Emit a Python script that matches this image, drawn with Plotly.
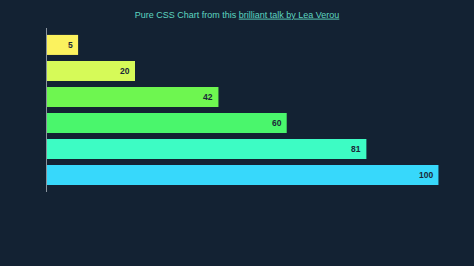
import plotly.graph_objects as go

categories = ["a", "b", "c", "d", "e", "f"]
values = [5, 20, 42, 60, 81, 100]
colors = ["#fbf25e", "#d6fa58", "#6ef650", "#4af66c", "#3dfcc4", "#37d8fb"]

BG = "#132233"
BASE = -3.2

fig = go.Figure()
fig.add_trace(go.Bar(
    y=categories, x=[v - BASE for v in values], base=BASE,
    orientation="h", marker=dict(color=colors, line=dict(width=0)),
    hoverinfo="skip", showlegend=False,
))
for c, v in zip(categories, values):
    fig.add_annotation(x=v, y=c, text=f"<b>{v}</b>", showarrow=False,
                       xanchor="right", xshift=-3,
                       font=dict(family="Liberation Sans, Arial", size=8.5, color="#1b2838"))

fig.update_layout(
    width=474, height=266,
    paper_bgcolor=BG, plot_bgcolor=BG,
    margin=dict(l=47, r=9, t=28, b=74),
    bargap=0.23,
    title=dict(
        text='Pure CSS Chart from this <a href="https://lea.verou.me" style="color:#5ed6c0;text-decoration:underline">brilliant talk by Lea Verou</a>',
        x=0.5, xanchor="center", y=1 - 14.5 / 266, yanchor="middle",
        font=dict(family="Liberation Sans, Arial", size=9, color="#5ed6c0"),
    ),
    xaxis=dict(range=[BASE, 107], visible=False, fixedrange=True),
    yaxis=dict(range=[5.65, -0.65], showticklabels=False, showgrid=False,
               zeroline=False, showline=True, linecolor="#8a949e", linewidth=1,
               ticks="", fixedrange=True),
)

fig.write_html("out.html")
